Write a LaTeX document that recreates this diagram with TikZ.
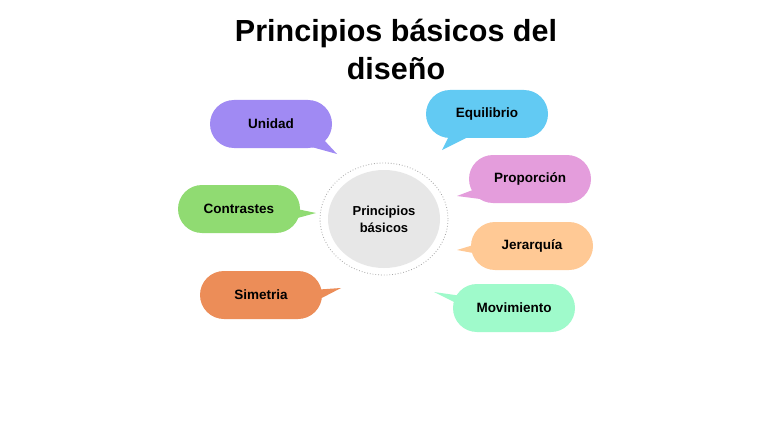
\documentclass[tikz,border=0pt]{standalone}
\usepackage{fontspec}
\setmainfont{Liberation Sans}
\usetikzlibrary{calc,shapes.geometric}
\definecolor{cUni}{HTML}{A08AF3}
\definecolor{cEqu}{HTML}{62CAF3}
\definecolor{cPro}{HTML}{E49DDC}
\definecolor{cJer}{HTML}{FFC995}
\definecolor{cMov}{HTML}{9FFACB}
\definecolor{cSim}{HTML}{EC8D58}
\definecolor{cCon}{HTML}{90DB72}
\definecolor{cCen}{HTML}{E7E7E7}
\tikzset{
  bubble/.style={rounded corners=24pt, minimum width=122pt, minimum height=48pt,
    inner sep=0pt, font=\fontsize{13.5}{15}\selectfont\bfseries, text=black},
  titletext/.style={font=\fontsize{30.5}{34}\selectfont\bfseries, text=black},
}
\begin{document}
\begin{tikzpicture}[x=1pt,y=-1pt]
\fill[white] (0,0) rectangle (768,433);
\useasboundingbox (0,0) rectangle (768,433);

\node[titletext] (t1) at (396,33) {Principios básicos del};
\node[titletext] (t2) at (396,69) {diseño};

% centre
\node[ellipse, draw=gray!70, dotted, line width=0.8pt, minimum width=128pt, minimum height=112pt] (ring) at (384,219) {};
\node[ellipse, fill=cCen, minimum width=112pt, minimum height=98pt, align=center,
  font=\fontsize{13}{17}\selectfont\bfseries] (cen) at (384,219) {Principios\\básicos};

% tails
\coordinate (tu) at (337,154);
\coordinate (te) at (442,150);
\coordinate (tp) at (457,196);
\coordinate (tj) at (457,250);
\coordinate (tm) at (434,292);
\coordinate (ts) at (341,288);
\coordinate (tc) at (316,213);

\fill[cUni] (308,146) -- (tu) -- (324,140) -- cycle;
\fill[cEqu] (452,130) -- (te) -- (470,136) -- cycle;
\fill[cPro] (478,188) -- (tp) -- (488,200) -- cycle;
\fill[cJer] (480,243) -- (tj) -- (484,255) -- cycle;
\fill[cMov] (462,296) -- (tm) -- (466,308) -- cycle;
\fill[cSim] (312,290) -- (ts) -- (314,302) -- cycle;
\fill[cCon] (292,208) -- (tc) -- (290,220) -- cycle;

\node[bubble, fill=cUni] (uni) at (271,124) {Unidad};
\node[bubble, fill=cEqu] (equ) at (487,114) {Equilibrio};
\node[bubble, fill=cPro] (pro) at (530,179) {Proporción};
\node[bubble, fill=cJer] (jer) at (532,246) {Jerarquía};
\node[bubble, fill=cMov] (mov) at (514,308) {Movimiento};
\node[bubble, fill=cSim] (sim) at (261,295) {Simetria};
\node[bubble, fill=cCon] (con) at (239,209) {Contrastes};
\end{tikzpicture}
\end{document}
